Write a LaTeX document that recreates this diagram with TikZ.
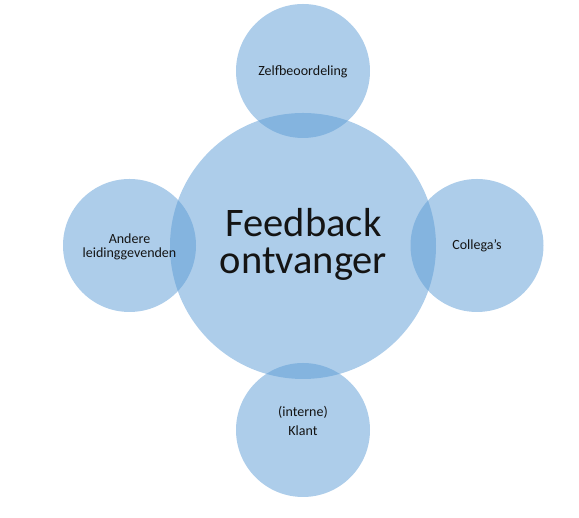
\documentclass[tikz,border=0pt]{standalone}
\usepackage{fontspec}
\setmainfont{Carlito}
\definecolor{bubble}{RGB}{91,155,213}
\definecolor{ink}{RGB}{20,20,20}
\begin{document}
\begin{tikzpicture}[x=1pt,y=1pt,
  bubble/.style={circle,fill=bubble,fill opacity=0.5,draw=none,inner sep=0pt},
  small/.style={font=\fontsize{14}{14.5}\selectfont,align=center,text=ink,inner sep=0pt},
  big/.style={font=\fontsize{40.5}{37}\selectfont,align=center,text=ink,inner sep=0pt}]
\useasboundingbox (0,0) rectangle (579,518);
\node[bubble,minimum size=266] (center) at (303,272) {};
\node[bubble,minimum size=134] (top) at (303,447) {};
\node[bubble,minimum size=133] (right) at (477,272.5) {};
\node[bubble,minimum size=133] (left) at (129.5,272.5) {};
\node[bubble,minimum size=134] (bottom) at (303,88) {};
\node[big] (tcenter) at (303.5,274) {Feedback\\ontvanger};
\node[small] (ttop) at (303,446) {Zelfbeoordeling};
\node[small] (tright) at (477,272) {Collega’s};
\node[small] (tleft) at (129.5,271) {Andere\\leidinggevenden};
\node[small] (tbottom) at (303,97) {(interne)\\[4pt]Klant};
\end{tikzpicture}
\end{document}
